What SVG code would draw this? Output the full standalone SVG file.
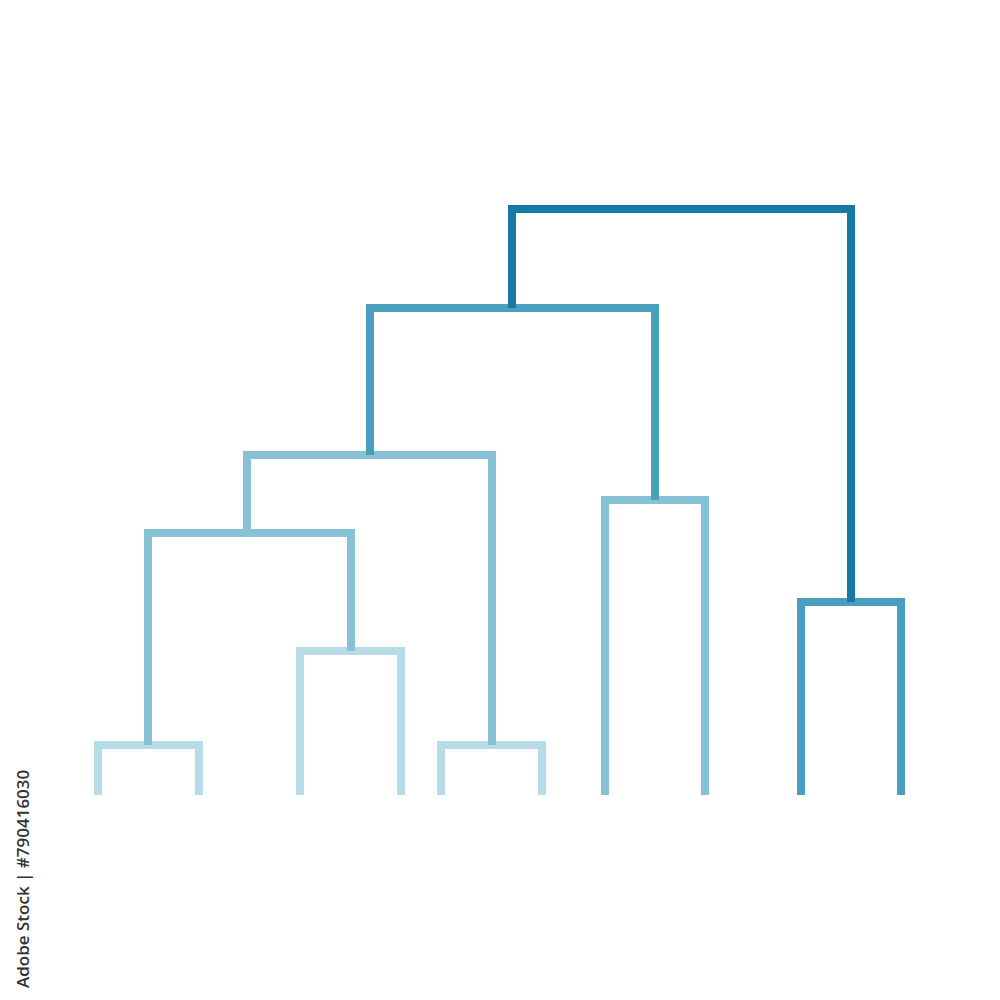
<svg xmlns="http://www.w3.org/2000/svg" width="1000" height="1000" viewBox="0 0 1000 1000">
<style>
.b{fill:none;stroke-width:8;stroke-linejoin:miter;stroke-linecap:butt}
.c1{stroke:#167aa6}
.c2{stroke:#4a9fbe}
.c3{stroke:#86c1d5}
.c4{stroke:#b7dce7}
.id{font-family:"Open Sans","Liberation Sans",sans-serif;font-size:17px;font-weight:600;fill:#333}
</style>
<rect width="1000" height="1000" fill="#fff"/>
<g id="connectors">
<g id="leaf-a"><path class="b c4" d="M98,795 V745 H199 V795"/></g>
<g id="leaf-b"><path class="b c4" d="M300,795 V651 H401 V795"/></g>
<g id="leaf-c"><path class="b c4" d="M441,795 V745 H542 V795"/></g>
<g id="leaf-d"><path class="b c3" d="M605,795 V500 H705 V795"/></g>
<g id="leaf-e"><path class="b c2" d="M801,795 V602 H901 V795"/></g>
<g id="node-1"><path class="b c3" d="M148,745 V533 H351 V651"/></g>
<g id="node-2"><path class="b c3" d="M247,533 V455 H492 V745"/></g>
<g id="node-3"><path class="b c2" d="M370,455 V308 H655 V500"/></g>
<g id="node-4"><path class="b c1" d="M512,308 V209 H851 V602"/></g>
</g>
<text class="id" transform="translate(29,988) rotate(-90)">Adobe Stock | #790416030</text>
</svg>
